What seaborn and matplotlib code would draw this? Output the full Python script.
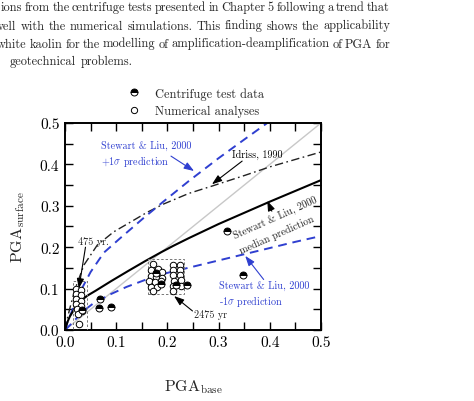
import numpy as np
import pandas as pd
import matplotlib
matplotlib.use("Agg")
import matplotlib.pyplot as plt
import seaborn as sns
from matplotlib.lines import Line2D
from matplotlib.patches import Rectangle

# curves (PGA_base, PGA_surface)
median_x = [0, 0.005, 0.01, 0.02, 0.032, 0.045, 0.06, 0.09, 0.124, 0.156, 0.188, 0.211, 0.242, 0.3, 0.4, 0.5]
median_y = [0, 0.02, 0.034, 0.054, 0.072, 0.084, 0.095, 0.118, 0.143, 0.166, 0.188, 0.203, 0.222, 0.256, 0.31, 0.362]

plus_x = [0, 0.005, 0.01, 0.02, 0.032, 0.05, 0.076, 0.108, 0.153, 0.192, 0.242, 0.3, 0.35, 0.395]
plus_y = [0, 0.02, 0.034, 0.067, 0.098, 0.14, 0.187, 0.222, 0.27, 0.31, 0.36, 0.415, 0.46, 0.5]

minus_x = [0, 0.01, 0.02, 0.035, 0.055, 0.09, 0.12, 0.163, 0.2, 0.25, 0.3, 0.35, 0.4, 0.45, 0.5]
minus_y = [0, 0.012, 0.025, 0.045, 0.064, 0.087, 0.104, 0.124, 0.138, 0.153, 0.168, 0.183, 0.198, 0.213, 0.227]

idriss_x = [0, 0.005, 0.01, 0.02, 0.037, 0.063, 0.095, 0.127, 0.16, 0.192, 0.242, 0.288, 0.35, 0.4, 0.45, 0.5]
idriss_y = [0, 0.03, 0.055, 0.1, 0.157, 0.205, 0.237, 0.26, 0.284, 0.304, 0.33, 0.348, 0.373, 0.394, 0.412, 0.43]

one_to_one = [0, 0.5]

# centrifuge test data (half filled markers)
centrifuge_x = [0.034, 0.068, 0.067, 0.089, 0.178, 0.187, 0.216, 0.239, 0.317, 0.347]
centrifuge_y = [0.048, 0.074, 0.053, 0.056, 0.137, 0.110, 0.108, 0.108, 0.239, 0.132]

# numerical analyses (open markers)
numerical_x = [0.021, 0.031, 0.021, 0.031, 0.021, 0.031, 0.021, 0.031, 0.023, 0.033, 0.025, 0.027,
               0.172, 0.168, 0.182, 0.190, 0.167, 0.178, 0.190, 0.165, 0.176, 0.188, 0.168, 0.180, 0.172,
               0.210, 0.224, 0.210, 0.224, 0.210, 0.224, 0.212, 0.226, 0.210, 0.226, 0.210]
numerical_y = [0.100, 0.097, 0.088, 0.084, 0.075, 0.071, 0.062, 0.058, 0.050, 0.045, 0.038, 0.014,
               0.160, 0.146, 0.147, 0.140, 0.131, 0.128, 0.126, 0.118, 0.116, 0.118, 0.105, 0.104, 0.094,
               0.158, 0.158, 0.145, 0.145, 0.132, 0.132, 0.119, 0.120, 0.106, 0.106, 0.094]

# dashed boxes around return periods: (x0, y0, x1, y1)
box_475 = (0.015, 0.0, 0.042, 0.118)
box_2475 = (0.162, 0.086, 0.232, 0.171)

xticks = [0.0, 0.1, 0.2, 0.3, 0.4, 0.5]
yticks = [0.0, 0.1, 0.2, 0.3, 0.4, 0.5]

paragraph = [
    "ions from the centrifuge tests presented in Chapter 5 following a trend that",
    "well with the numerical simulations.  This finding shows the applicability",
    "white kaolin for the modelling of amplification-deamplification of PGA for",
    "geotechnical problems.",
]

BLUE = "#2f3fd0"
W, H = 474, 402

sns.set_theme(style="ticks")
plt.rcParams["font.family"] = ["cmr10", "DejaVu Serif"]
plt.rcParams["mathtext.fontset"] = "cm"
plt.rcParams["axes.formatter.use_mathtext"] = True
plt.rcParams["axes.unicode_minus"] = False

fig = plt.figure(figsize=(W / 100, H / 100), dpi=100)
fig.patch.set_facecolor("white")
ax = fig.add_axes([65 / W, 1 - 331 / H, 256 / W, 207 / H])
ax.set_facecolor("white")

curves = pd.DataFrame({"x": one_to_one, "y": one_to_one})
sns.lineplot(data=curves, x="x", y="y", ax=ax, color="#c8c8c8", lw=1.0)
sns.lineplot(x=idriss_x, y=idriss_y, ax=ax, color="#222222", lw=1.0,
             linestyle=(0, (6, 2.5, 1.2, 2.5)))
sns.lineplot(x=plus_x, y=plus_y, ax=ax, color=BLUE, lw=1.4, linestyle=(0, (4.5, 3)))
sns.lineplot(x=minus_x, y=minus_y, ax=ax, color=BLUE, lw=1.4, linestyle=(0, (4.5, 3)))
sns.lineplot(x=median_x, y=median_y, ax=ax, color="black", lw=1.5)

for x0, y0, x1, y1 in (box_475, box_2475):
    ax.add_patch(Rectangle((x0, y0), x1 - x0, y1 - y0, fill=False, ec="#777777",
                           lw=0.7, ls=(0, (2.5, 2)), zorder=3))

sns.scatterplot(x=numerical_x, y=numerical_y, ax=ax, marker="o", s=22,
                facecolor="white", edgecolor="black", linewidth=0.7, zorder=4)
ax.plot(centrifuge_x, centrifuge_y, "o", ms=5, fillstyle="top", mfc="black",
        mfcalt="white", mec="black", mew=0.7, zorder=5)

# annotations
fs = 7.3
arrow = dict(arrowstyle="-|>,head_length=0.5,head_width=0.18", lw=0.8, shrinkA=0, shrinkB=0)
ax.text(0.071, 0.44, "Stewart & Liu, 2000", color=BLUE, fontsize=fs)
ax.text(0.071, 0.40, r"+1$\sigma$ prediction", color=BLUE, fontsize=fs)
ax.annotate("", xy=(0.252, 0.384), xytext=(0.207, 0.42), arrowprops=dict(arrow, color=BLUE))

ax.text(0.326, 0.418, "Idriss, 1990", color="black", fontsize=fs)
ax.annotate("", xy=(0.287, 0.352), xytext=(0.346, 0.408), arrowprops=dict(arrow, color="black"))

ax.text(0.411, 0.274, "Stewart & Liu, 2000", fontsize=fs, rotation=24, ha="center", va="center",
        rotation_mode="anchor")
ax.text(0.413, 0.231, "median prediction", fontsize=fs, rotation=24, ha="center", va="center",
        rotation_mode="anchor")
ax.annotate("", xy=(0.395, 0.312), xytext=(0.404, 0.287), arrowprops=dict(arrow, color="black"))

ax.text(0.30, 0.101, "Stewart & Liu, 2000", color=BLUE, fontsize=fs)
ax.text(0.30, 0.063, r"-1$\sigma$ prediction", color=BLUE, fontsize=fs)
ax.annotate("", xy=(0.352, 0.179), xytext=(0.388, 0.122), arrowprops=dict(arrow, color=BLUE))

ax.text(0.025, 0.207, "475 yr.", fontsize=fs)
ax.annotate("", xy=(0.027, 0.1), xytext=(0.04, 0.2), arrowprops=dict(arrow, color="black"))
ax.text(0.252, 0.032, "2475 yr", fontsize=fs)
ax.annotate("", xy=(0.213, 0.082), xytext=(0.249, 0.046), arrowprops=dict(arrow, color="black"))

ax.set_xlim(0, 0.5)
ax.set_ylim(0, 0.5)
ax.set_xticks(xticks)
ax.set_yticks(yticks)
ax.set_xticklabels([f"{v:.1f}" for v in xticks])
ax.set_yticklabels([f"{v:.1f}" for v in yticks])
ax.xaxis.set_minor_locator(matplotlib.ticker.MultipleLocator(0.05))
ax.yaxis.set_minor_locator(matplotlib.ticker.MultipleLocator(0.05))
ax.tick_params(which="both", direction="in", top=True, right=True, width=1.0, colors="black",
               labelsize=11, pad=4, length=6)
for s in ax.spines.values():
    s.set_linewidth(1.4)
    s.set_color("black")
ax.set_xlabel(r"PGA$_{\rm base}$", fontsize=11.5, labelpad=20)
ax.set_ylabel(r"PGA$_{\rm surface}$", fontsize=11.5, labelpad=9)

handles = [
    Line2D([], [], ls="none", marker="o", ms=5, fillstyle="top", mfc="black", mfcalt="white",
           mec="black", mew=0.7),
    Line2D([], [], ls="none", marker="o", ms=4.5, mfc="white", mec="black", mew=0.7),
]
fig.legend(handles, ["Centrifuge test data", "Numerical analyses"], loc="upper left",
           bbox_to_anchor=(120 / W, 1 - 82 / H), frameon=False, fontsize=8.9,
           handlelength=1.2, handletextpad=1.15, labelspacing=0.4, borderpad=0)

# justified paragraph on top of the figure
renderer = fig.canvas.get_renderer()


def text_width(s):
    t = fig.text(0, 0, s, fontsize=8.9)
    w = t.get_window_extent(renderer).width
    t.remove()
    return w


starts = [1, -5, -3, 10]
baselines = [11, 29.5, 47.5, 65.5]
for i, line in enumerate(paragraph):
    words = line.split()
    natural = text_width(" ".join(words))
    offsets = [text_width(" ".join(words[:k + 1])) - text_width(words[k]) for k in range(len(words))]
    extra = (390 - starts[i] - natural) / (len(words) - 1) if i < len(paragraph) - 1 else 0
    for k, w in enumerate(words):
        fig.text((starts[i] + offsets[k] + k * extra) / W, 1 - baselines[i] / H, w,
                 fontsize=8.9, va="baseline")

fig.savefig("out.png", dpi=100)
